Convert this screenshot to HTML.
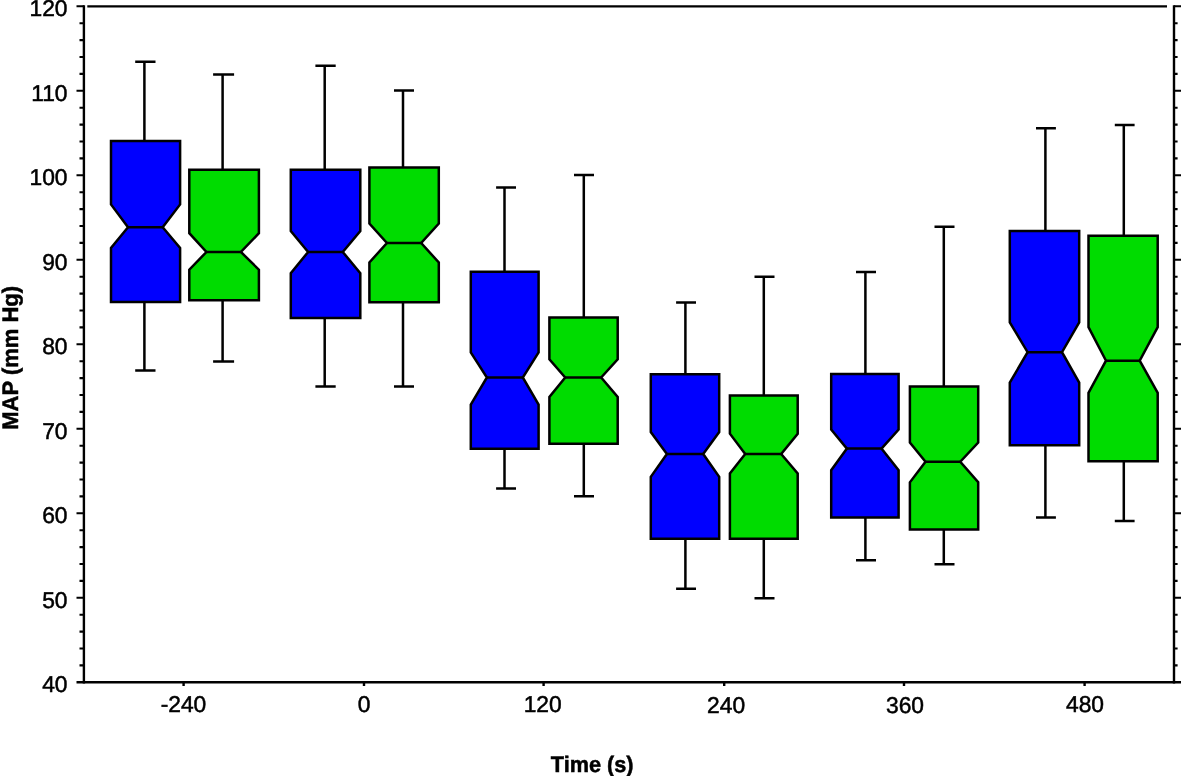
<!DOCTYPE html>
<html><head><meta charset="utf-8"><title>MAP over time</title>
<style>
html,body{margin:0;padding:0;background:#fff;}
body{width:1181px;height:776px;overflow:hidden;}
svg{display:block;}
text{text-rendering:geometricPrecision;font-family:"Liberation Sans",Arial,Helvetica,sans-serif;fill:#000;}
.t{font-size:22.8px;stroke:#000;stroke-width:0.5px;}
.b{font-weight:bold;stroke:#000;stroke-width:0.5px;}
</style></head><body>
<svg width="1181" height="776" viewBox="0 0 1181 776">
<rect width="1181" height="776" fill="#fff"/>

<g stroke="#000" stroke-width="2.5" stroke-linejoin="miter" stroke-linecap="butt">
<path fill="none" stroke-width="2.5" d="M144.4 141.1V61.7M135.2 61.7H155.5M144.4 302.0V370.6M135.2 370.6H155.5"/>
<path fill="#0000ff" d="M111.0 141.1H180.1V204.4L162.7 227.2L180.1 248.0V302.0H111.0V248.0L128.0 227.2L111.0 204.4Z"/>
<path fill="none" d="M128.0 227.2H162.7"/>
<path fill="none" stroke-width="2.5" d="M222.6 169.8V74.4M213.1 74.4H234.1M222.6 300.3V361.6M213.1 361.6H234.1"/>
<path fill="#00dc00" d="M189.3 169.8H258.9V233.2L240.9 252.0L258.9 269.7V300.3H189.3V269.7L206.4 252.0L189.3 233.2Z"/>
<path fill="none" d="M206.4 252.0H240.9"/>
<path fill="none" stroke-width="2.5" d="M324.7 169.8V65.7M315.4 65.7H335.7M324.7 317.9V386.5M315.4 386.5H335.7"/>
<path fill="#0000ff" d="M290.8 169.8H360.3V231.1L342.8 252.0L360.3 273.1V317.9H290.8V273.1L308.1 252.0L290.8 231.1Z"/>
<path fill="none" d="M308.1 252.0H342.8"/>
<path fill="none" stroke-width="2.5" d="M403.0 167.6V90.6M394.0 90.6H414.0M403.0 302.2V386.5M394.0 386.5H414.0"/>
<path fill="#00dc00" d="M369.4 167.6H438.8V223.5L421.2 243.0L438.8 262.5V302.2H369.4V262.5L386.9 243.0L369.4 223.5Z"/>
<path fill="none" d="M386.9 243.0H421.2"/>
<path fill="none" stroke-width="2.5" d="M504.5 271.8V187.4M496.1 187.4H516.0M504.5 448.8V488.6M496.1 488.6H516.0"/>
<path fill="#0000ff" d="M470.8 271.8H538.6V352.5L522.8 377.5L538.6 404.5V448.8H470.8V404.5L486.9 377.5L470.8 352.5Z"/>
<path fill="none" d="M486.9 377.5H522.8"/>
<path fill="none" stroke-width="2.5" d="M583.8 317.6V174.9M574.0 174.9H594.0M583.8 443.7V496.2M574.0 496.2H594.0"/>
<path fill="#00dc00" d="M549.4 317.6H617.7V359.3L601.2 377.5L617.7 396.9V443.7H549.4V396.9L565.2 377.5L549.4 359.3Z"/>
<path fill="none" d="M565.2 377.5H601.2"/>
<path fill="none" stroke-width="2.5" d="M685.4 374.2V302.5M676.1 302.5H696.0M685.4 538.8V588.7M676.1 588.7H696.0"/>
<path fill="#0000ff" d="M650.8 374.2H719.2V432.0L703.2 454.0L719.2 476.9V538.8H650.8V476.9L666.9 454.0L650.8 432.0Z"/>
<path fill="none" d="M666.9 454.0H703.2"/>
<path fill="none" stroke-width="2.5" d="M763.8 395.6V276.8M754.5 276.8H774.5M763.8 538.8V598.2M754.5 598.2H774.5"/>
<path fill="#00dc00" d="M729.9 395.6H797.7V433.7L781.2 454.0L797.7 473.5V538.8H729.9V473.5L745.2 454.0L729.9 433.7Z"/>
<path fill="none" d="M745.2 454.0H781.2"/>
<path fill="none" stroke-width="2.5" d="M865.4 373.9V272.0M856.0 272.0H876.0M865.4 517.6V560.3M856.0 560.3H876.0"/>
<path fill="#0000ff" d="M831.2 373.9H898.6V429.5L881.5 448.6L898.6 470.2V517.6H831.2V470.2L846.9 448.6L831.2 429.5Z"/>
<path fill="none" d="M846.9 448.6H881.5"/>
<path fill="none" stroke-width="2.5" d="M943.8 386.6V226.8M934.5 226.8H954.5M943.8 529.4V564.2M934.5 564.2H954.5"/>
<path fill="#00dc00" d="M909.9 386.6H978.2V442.5L960.3 461.7L978.2 482.3V529.4H909.9V482.3L925.5 461.7L909.9 442.5Z"/>
<path fill="none" d="M925.5 461.7H960.3"/>
<path fill="none" stroke-width="2.5" d="M1045.4 231.0V128.3M1036.0 128.3H1055.9M1045.4 445.2V517.5M1036.0 517.5H1055.9"/>
<path fill="#0000ff" d="M1009.8 231.0H1079.2V322.4L1062.0 352.2L1079.2 382.7V445.2H1009.8V382.7L1027.6 352.2L1009.8 322.4Z"/>
<path fill="none" d="M1027.6 352.2H1062.0"/>
<path fill="none" stroke-width="2.5" d="M1123.8 235.8V124.9M1114.8 124.9H1134.6M1123.8 461.2V520.9M1114.8 520.9H1134.6"/>
<path fill="#00dc00" d="M1088.5 235.8H1157.7V327.1L1139.7 360.7L1157.7 392.9V461.2H1088.5V392.9L1106.0 360.7L1088.5 327.1Z"/>
<path fill="none" d="M1106.0 360.7H1139.7"/>
</g>
<g stroke="#000" fill="none" stroke-linecap="butt">
<path stroke-width="2.4" d="M83.9 5.199999999999999V683.5"/>
<path stroke-width="2.4" d="M1174 5.199999999999999V683.5"/>
<path stroke-width="2.4" d="M76.5 682.3H1181"/>
<path stroke-width="2.2" d="M87.3 6.3H1167"/>
<path stroke-width="2.1" d="M79.5 665.4H84M1174 665.4H1177.6M79.5 648.5H84M1174 648.5H1177.6M79.5 631.6H84M1174 631.6H1177.6M79.5 614.7H84M1174 614.7H1177.6M76.5 597.8H84M1174 597.8H1181M79.5 580.9H84M1174 580.9H1177.6M79.5 564.0H84M1174 564.0H1177.6M79.5 547.1H84M1174 547.1H1177.6M79.5 530.2H84M1174 530.2H1177.6M76.5 513.3H84M1174 513.3H1181M79.5 496.4H84M1174 496.4H1177.6M79.5 479.5H84M1174 479.5H1177.6M79.5 462.6H84M1174 462.6H1177.6M79.5 445.7H84M1174 445.7H1177.6M76.5 428.8H84M1174 428.8H1181M79.5 411.9H84M1174 411.9H1177.6M79.5 395.0H84M1174 395.0H1177.6M79.5 378.1H84M1174 378.1H1177.6M79.5 361.2H84M1174 361.2H1177.6M76.5 344.3H84M1174 344.3H1181M79.5 327.4H84M1174 327.4H1177.6M79.5 310.5H84M1174 310.5H1177.6M79.5 293.6H84M1174 293.6H1177.6M79.5 276.7H84M1174 276.7H1177.6M76.5 259.8H84M1174 259.8H1181M79.5 242.9H84M1174 242.9H1177.6M79.5 226.0H84M1174 226.0H1177.6M79.5 209.1H84M1174 209.1H1177.6M79.5 192.2H84M1174 192.2H1177.6M76.5 175.3H84M1174 175.3H1181M79.5 158.4H84M1174 158.4H1177.6M79.5 141.5H84M1174 141.5H1177.6M79.5 124.6H84M1174 124.6H1177.6M79.5 107.7H84M1174 107.7H1177.6M76.5 90.8H84M1174 90.8H1181M79.5 73.9H84M1174 73.9H1177.6M79.5 57.0H84M1174 57.0H1177.6M79.5 40.1H84M1174 40.1H1177.6M79.5 23.2H84M1174 23.2H1177.6M76.5 6.3H84M1174 6.3H1181"/>
<path stroke-width="2.4" d="M183.6 682.3V685.9M364.0 682.3V685.9M543.6 682.3V685.9M724.2 682.3V685.9M904.0 682.3V685.9M1084.6 682.3V685.9"/>
</g>
<g class="t" text-anchor="end">
<text x="67.5" y="692.3">40</text>
<text x="67.5" y="607.8">50</text>
<text x="67.5" y="523.3">60</text>
<text x="67.5" y="438.8">70</text>
<text x="67.5" y="354.3">80</text>
<text x="67.5" y="269.8">90</text>
<text x="67.5" y="185.3">100</text>
<text x="67.5" y="100.8">110</text>
<text x="67.5" y="16.3">120</text>
</g>
<g class="t" text-anchor="middle">
<text x="183.5" y="712.3">-240</text>
<text x="364.1" y="712.3">0</text>
<text x="542.7" y="712.3">120</text>
<text x="726.1" y="712.5">240</text>
<text x="905.0" y="713.4">360</text>
<text x="1085.0" y="711.9">480</text>
</g>
<text class="b" x="550.8" y="771.8" font-size="22.5" textLength="82.7" lengthAdjust="spacingAndGlyphs">Time (s)</text>
<text class="b" transform="translate(17.6 429.7) rotate(-90)" font-size="22.5" textLength="143.8" lengthAdjust="spacingAndGlyphs">MAP (mm Hg)</text>
</svg>
</body></html>
